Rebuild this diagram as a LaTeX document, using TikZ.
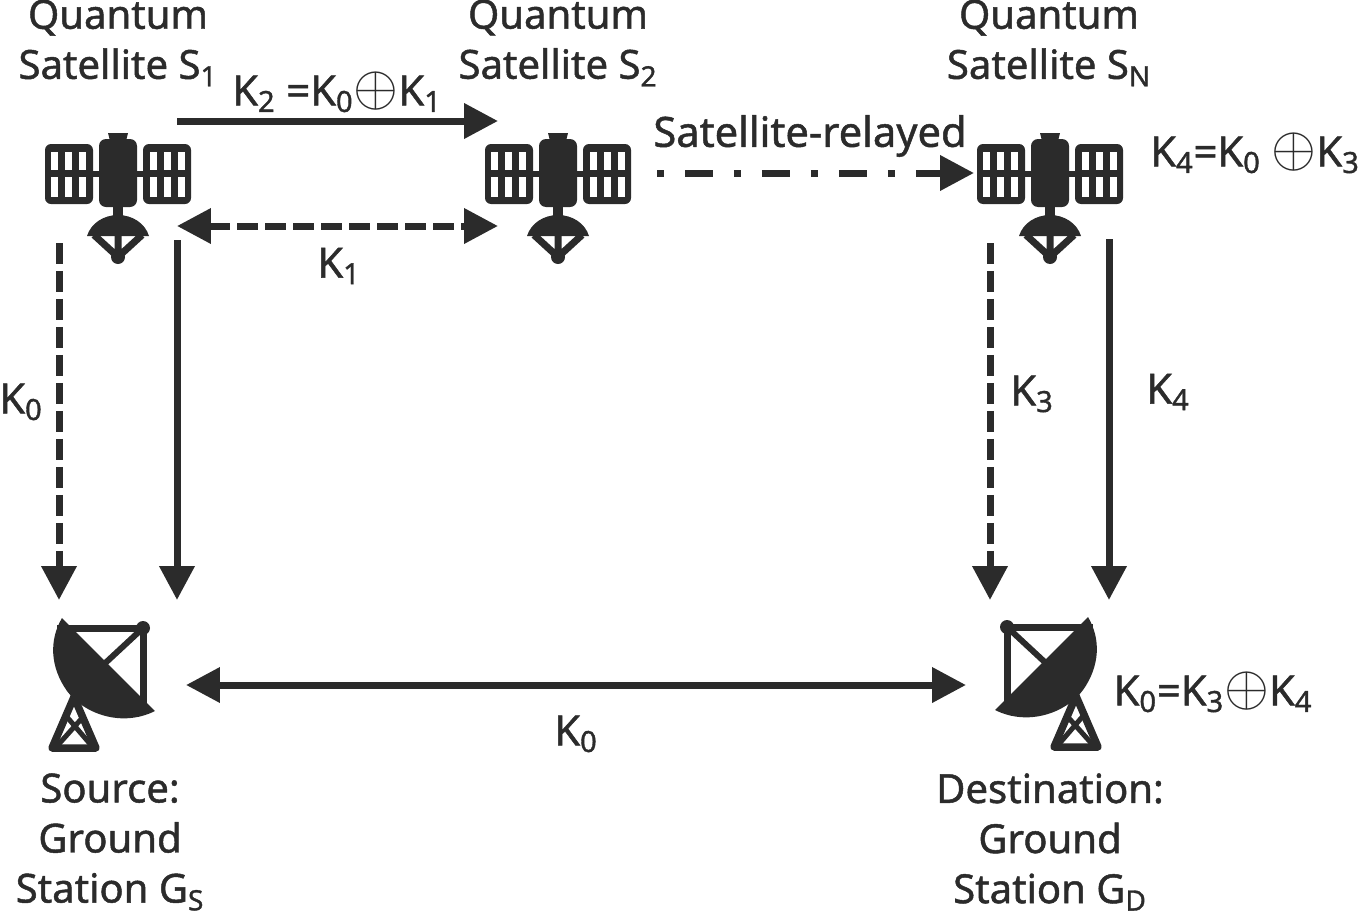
\documentclass[tikz,border=0pt]{standalone}
\usepackage{fontspec}
\setmainfont[FakeBold=1.2]{Noto Sans}
\usetikzlibrary{arrows.meta}
\definecolor{icondark}{HTML}{2B2B2B}
\newcommand{\keyxor}{\scalebox{1.32}{$\oplus$}}
\tikzset{
	% one unit is one pixel of the reference
	label/.style={text=icondark,font=\fontsize{22.8}{28.5}\selectfont,align=center,inner sep=0pt},
	keylabel/.style={label,font=\fontsize{23.7}{28.5}\selectfont},
	link/.style={draw=icondark,line width=0.14cm,>={Triangle[length=0.68cm,width=0.68cm]}},
	dashlink/.style={link,dash pattern=on 0.42cm off 0.14cm},
	relaylink/.style={link,dash pattern=on 0.14cm off 0.42cm on 0.56cm off 0.42cm},
	satellite/.pic={
		% panels
		\foreach \s in {-1,1}
		{
			\fill[icondark,rounded corners=0.12cm] (\s*25,-31) rectangle (\s*73,29);
			\fill[icondark] (\s*19,-4) rectangle (\s*25,2);
			\foreach \x in {32,46,60}
			{
				\fill[white] (\s*\x,-23) rectangle (\s*\x+\s*7,-5);
				\fill[white] (\s*\x,2) rectangle (\s*\x+\s*7,22);
			}
		}
		% body
		\fill[icondark,rounded corners=0.14cm] (-19,-36) rectangle (19,32);
		\fill[icondark] (-10,-42) -- (10,-42) -- (8,-34) -- (-8,-34) -- cycle;
		\fill[icondark] (-5,32) rectangle (5,44);
		% dish
		\fill[icondark] (-31,61) .. controls (-27,48) and (-14,40) .. (0,40) .. controls (14,40) and (27,48) .. (31,61) -- cycle;
		\draw[icondark,line width=0.14cm] (-24,60) -- (0,82) -- (24,60) (0,60) -- (0,82);
		\fill[icondark] (0,82) circle (7);
	},
	groundstation/.pic={
		% frame
		\draw[icondark,line width=0.14cm] (-18,-47) -- (68,-47) -- (68,30);
		\draw[icondark,line width=0.12cm] (68,-47) -- (26,-8);
		\fill[icondark] (68,-47) circle (7);
		% tower
		\draw[icondark,line width=0.15cm,line join=round] (-1,22) -- (-23,73) -- (21,73) -- cycle;
		\draw[icondark,line width=0.1cm] (-17,70) -- (8,42) (16,70) -- (-8,42);
		% dish
		\fill[icondark] (-13,-57) .. controls (-26,-35) and (-25,-8) .. (-8,16) .. controls (8,38) and (46,53) .. (80,36) -- cycle;
	}
}
\begin{document}
\begin{tikzpicture}[x=0.02cm,y=-0.02cm]
	\useasboundingbox (0,0) rectangle (1358,916);

	% draw satellites
	\pic at (118,175) {satellite};
	\pic at (558,175) {satellite};
	\pic at (1050,175) {satellite};

	% draw ground stations
	\pic at (75,675) {groundstation};
	\pic[xscale=-1] at (1075,674) {groundstation};

	% satellite names
	\node[label] (s1) at (118,43) {Quantum\\Satellite S\textsubscript{1}};
	\node[label] (s2) at (558,43) {Quantum\\Satellite S\textsubscript{2}};
	\node[label] (sn) at (1049,43) {Quantum\\Satellite S\textsubscript{N}};

	% ground station names
	\node[label] (gs) at (110,842) {Source:\\Ground\\Station G\textsubscript{S}};
	\node[label] (gd) at (1050,842) {Destination:\\Ground\\Station G\textsubscript{D}};

	% key labels
	\node[keylabel] (k2) at (337,92) {K\textsubscript{2} =K\textsubscript{0}\keyxor K\textsubscript{1}};
	\node[keylabel] (k1) at (339,266) {K\textsubscript{1}};
	\node[keylabel] (relay) at (810,136) {Satellite-relayed};
	\node[keylabel] (k4n) at (1255,153) {K\textsubscript{4}=K\textsubscript{0} \keyxor K\textsubscript{3}};
	\node[keylabel] (k0l) at (21,402) {K\textsubscript{0}};
	\node[keylabel] (k3) at (1032,394) {K\textsubscript{3}};
	\node[keylabel] (k4) at (1168,392) {K\textsubscript{4}};
	\node[keylabel] (k0d) at (1213,692) {K\textsubscript{0}=K\textsubscript{3}\keyxor K\textsubscript{4}};
	\node[keylabel] (k0b) at (576,734) {K\textsubscript{0}};

	% free ends of the links
	\coordinate (s1r) at (177,121);
	\coordinate (s2l) at (498,121);
	\coordinate (s1k) at (177,226);
	\coordinate (s2k) at (498,226);
	\coordinate (s2r) at (657,173);
	\coordinate (snl) at (974,173);
	\coordinate (s1a) at (59,243);
	\coordinate (gsa) at (59,600);
	\coordinate (s1b) at (177,240);
	\coordinate (gsb) at (177,600);
	\coordinate (sna) at (990,243);
	\coordinate (gda) at (990,600);
	\coordinate (snb) at (1109,239);
	\coordinate (gdb) at (1109,600);
	\coordinate (gsr) at (186,685);
	\coordinate (gdl) at (966,685);

	% draw links
	\draw[link,->] (s1r) -- (s2l);
	\draw[dashlink,<->] (s1k) -- (s2k);
	\draw[relaylink,->] (s2r) -- (snl);
	\draw[dashlink,->] (s1a) -- (gsa);
	\draw[link,->] (s1b) -- (gsb);
	\draw[dashlink,->] (sna) -- (gda);
	\draw[link,->] (snb) -- (gdb);
	\draw[link,<->] (gsr) -- (gdl);
\end{tikzpicture}
\end{document}
